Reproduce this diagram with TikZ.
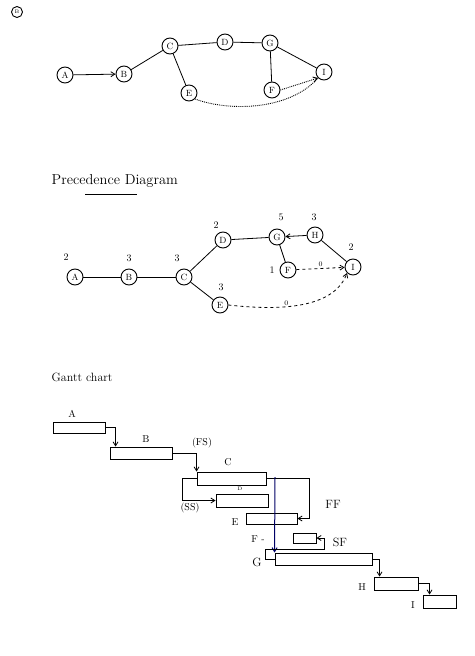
\documentclass[tikz,border=0pt]{standalone}
\usetikzlibrary{calc,arrows.meta}
\begin{document}
\begin{tikzpicture}[x=1pt,y=-1pt,line width=0.8pt,
  circ/.style={circle,draw,line width=0.9pt,minimum size=16pt,inner sep=0pt,font=\small},
  bar/.style={rectangle,draw,line width=0.9pt,inner sep=0pt},
  lbl/.style={font=\normalsize,inner sep=1pt},
  arr/.style={-{Straight Barb[length=4pt,width=5pt]}},
  dot/.style={densely dotted,line width=0.9pt},
  dsh/.style={dash pattern=on 3pt off 3pt,line width=0.8pt},
  ink/.style={draw=blue!40!black,line width=1pt}]
\useasboundingbox (0,0) rectangle (474,656);

% ---------- top network ----------
\node[circ,minimum size=11pt,font=\tiny] (tag) at (17,12) {B};
\node[circ] (ta) at (65,75) {A};
\node[circ] (tb) at (124,74) {B};
\node[circ] (tc) at (170,46) {C};
\node[circ] (td) at (225,42) {D};
\node[circ] (tg) at (270,43) {G};
\node[circ] (ti) at (324,72) {I};
\node[circ] (te) at (189,93) {E};
\node[circ] (tf) at (272,90) {F};
\draw[arr] (ta) -- (tb);
\draw (tb) -- (tc);
\draw (tc) -- (td);
\draw (td) -- (tg);
\draw (tg) -- (ti);
\draw (tc) -- (te);
\draw (tg) -- (tf);
\draw[dot,arr] (tf.east) -- (ti.south west);
\draw[dot] (te.south east) .. controls (230,112) and (290,110) .. (ti.south west);

% ---------- precedence diagram ----------
\node[font=\Large,anchor=west] (ptitle) at (48,181) {Precedence Diagram};
\coordinate (ul1) at (85,194);
\coordinate (ul2) at (137,194);
\draw (ul1) -- (ul2);

\node[circ] (pa) at (75,277) {A};
\node[circ] (pb) at (129,277) {B};
\node[circ] (pc) at (184,277) {C};
\node[circ] (pd) at (223,240) {D};
\node[circ] (pg) at (277,237) {G};
\node[circ] (ph) at (315,235) {H};
\node[circ] (pi) at (353,267) {I};
\node[circ] (pf) at (288,270) {F};
\node[circ] (pe) at (220,305) {E};

\node[lbl] (na) at (66,257) {2};
\node[lbl] (nb) at (129,258) {3};
\node[lbl] (nc) at (177,258) {3};
\node[lbl] (nd) at (216,225) {2};
\node[lbl] (ng) at (281,217) {5};
\node[lbl] (nh) at (314,217) {3};
\node[lbl] (ni) at (351,247) {2};
\node[lbl] (nf) at (272,270) {1};
\node[lbl] (ne) at (221,287) {3};

\draw (pa) -- (pb);
\draw (pb) -- (pc);
\draw (pc) -- (pd);
\draw (pc) -- (pe);
\draw (pd) -- (pg);
\draw[arr] (ph) -- (pg);
\draw (pg) -- (pf);
\draw (ph) -- (pi);
\draw[dsh,arr] (pf) -- node[lbl,above,font=\scriptsize] (z1) {0} (pi);
\draw[dsh,arr] (pe.east) .. controls (290,312) and (335,305) .. node[lbl,above,pos=0.35,font=\scriptsize] (z2) {0} (pi.south west);

% ---------- Gantt chart ----------
\node[font=\large,anchor=west] (gtitle) at (48,377) {Gantt chart};

\node[bar,minimum width=52pt,minimum height=11pt] (ga) at (79,427.5) {};
\node[bar,minimum width=62pt,minimum height=12pt] (gb) at (141,453) {};
\node[bar,minimum width=69pt,minimum height=13pt] (gc) at (231.5,478.5) {};
\node[bar,minimum width=52pt,minimum height=13pt] (gd) at (242,500.5) {};
\node[bar,minimum width=51pt,minimum height=11pt] (ge) at (271.5,518.5) {};
\node[bar,minimum width=23pt,minimum height=10pt] (gf) at (304.5,538) {};
\node[bar,minimum width=97pt,minimum height=12pt] (gg) at (323.5,559) {};
\node[bar,minimum width=44pt,minimum height=13pt] (gh) at (396,583.5) {};
\node[bar,minimum width=33pt,minimum height=13pt] (gi) at (439.5,601.5) {};

\node[lbl] (la) at (72,414) {A};
\node[lbl] (lb) at (146,439) {B};
\node[lbl] (lc) at (228,462) {C};
\node[lbl,font=\tiny] (ld) at (240,489) {D};
\node[lbl] (le) at (235,522) {E};
\node[lbl] (lf) at (258,539) {F -};
\node[lbl,font=\large] (lg) at (257,562) {G};
\node[lbl] (lh) at (362,587) {H};
\node[lbl] (li) at (413,605) {I};
\node[lbl] (lfs) at (202,443) {(FS)};
\node[lbl] (lss) at (190,508) {(SS)};
\node[lbl,font=\large] (lff) at (333,504) {FF};
\node[lbl,font=\large] (lsf) at (340,542) {SF};

\draw[arr] (ga.east) -| ($(gb.north west)+(6,0)$);
\draw[arr] (gb.east) -| (gc.north west);
\draw[arr] (gc.west) -- ++(-14,0) |- (gd.west);
\draw[arr] (gc.east) -- ++(43,0) |- (ge.east);
\coordinate (vtop) at (275,477);
\draw[ink,arr] (vtop) -- (gg.north west);
\draw[arr] (gg.west) -- ++(-9,0) -- ++(0,-10) -| ($(gf.east)+(8,0)$) -- (gf.east);
\draw[arr] (gg.east) -| ($(gh.north west)+(6,0)$);
\draw[arr] (gh.east) -| ($(gi.north west)+(7,0)$);
\end{tikzpicture}
\end{document}
